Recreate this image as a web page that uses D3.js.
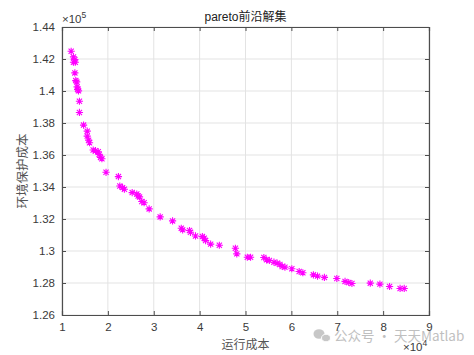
<!DOCTYPE html>
<html><head><meta charset="utf-8">
<script src="https://cdn.jsdelivr.net/npm/d3@7"></script>
<style>body{margin:0;background:#fff;}svg{display:block;}</style>
</head><body>
<svg id="c" width="474" height="355"></svg>
<script>
const titleText = "pareto前沿解集";
const xLabel = "运行成本";
const yLabel = "环境保护成本";
const xTicks = [1,2,3,4,5,6,7,8,9];
const yTicks = [1.26,1.28,1.30,1.32,1.34,1.36,1.38,1.40,1.42,1.44];
const yTickLabels = ["1.26","1.28","1.3","1.32","1.34","1.36","1.38","1.4","1.42","1.44"];
// operating cost (x10^4)
const costX = [1.20,1.25,1.28,1.29,1.25,1.28,1.30,1.32,1.33,1.34,1.36,1.38,1.38,1.47,1.55,1.55,1.58,1.60,1.68,1.73,1.79,1.81,1.84,1.87,1.96,2.23,2.26,2.32,2.36,2.53,2.63,2.66,2.69,2.74,2.79,2.90,3.14,3.41,3.60,3.63,3.78,3.80,3.91,4.06,4.10,4.13,4.24,4.43,4.78,4.81,5.04,5.11,5.40,5.46,5.52,5.62,5.69,5.75,5.80,5.86,6.01,6.17,6.25,6.48,6.57,6.72,6.99,7.17,7.25,7.32,7.72,7.93,8.14,8.37,8.46];
// environmental cost (x10^5)
const costY = [1.4248,1.4213,1.4196,1.4180,1.4180,1.4113,1.4065,1.4057,1.4026,1.4009,1.4001,1.3936,1.3866,1.3787,1.3749,1.3718,1.3693,1.3677,1.3631,1.3627,1.3620,1.3604,1.3585,1.3577,1.3492,1.3465,1.3406,1.3396,1.3386,1.3365,1.3356,1.3344,1.3338,1.3309,1.3302,1.3263,1.3213,1.3188,1.3142,1.3132,1.3128,1.3117,1.3094,1.3090,1.3080,1.3065,1.3043,1.3036,1.3017,1.2982,1.2961,1.2961,1.2959,1.2945,1.2941,1.2930,1.2924,1.2916,1.2903,1.2899,1.2889,1.2872,1.2864,1.2851,1.2843,1.2835,1.2828,1.2810,1.2803,1.2797,1.2799,1.2793,1.2778,1.2766,1.2766];

const L=62,R=429,T=27,B=315;
const svg=d3.select("#c");
const x=d3.scaleLinear().domain([1,9]).range([L,R]);
const y=d3.scaleLinear().domain([1.26,1.44]).range([B,T]);
const axisCol="#4d4d4d", textCol="#3a3a3a", font="'Liberation Sans', Arial, sans-serif", cjk="'Noto Sans CJK SC', sans-serif";

// grid
const g=svg.append("g");
g.selectAll("line.gx").data(xTicks).join("line").attr("x1",d=>x(d)).attr("x2",d=>x(d)).attr("y1",T).attr("y2",B).attr("stroke","#e3e3e3").attr("stroke-width",1);
g.selectAll("line.gy").data(yTicks).join("line").attr("y1",d=>y(d)).attr("y2",d=>y(d)).attr("x1",L).attr("x2",R).attr("stroke","#e3e3e3").attr("stroke-width",1);

// axes
const ax=svg.append("g").attr("transform",`translate(0,${B})`).call(d3.axisBottom(x).tickValues(xTicks).tickSize(-4).tickPadding(8).tickFormat(d3.format("d")));
const ay=svg.append("g").attr("transform",`translate(${L},0)`).call(d3.axisLeft(y).tickValues(yTicks).tickSize(-4).tickPadding(7).tickFormat((d,i)=>yTickLabels[i]));
const axT=svg.append("g").attr("transform",`translate(0,${T})`).call(d3.axisTop(x).tickValues(xTicks).tickSize(-4).tickFormat(""));
const ayR=svg.append("g").attr("transform",`translate(${R},0)`).call(d3.axisRight(y).tickValues(yTicks).tickSize(-4).tickFormat(""));
[ax,ay,axT,ayR].forEach(a=>{
  a.select(".domain").attr("stroke",axisCol).attr("stroke-width",1.2);
  a.selectAll(".tick line").attr("stroke",axisCol);
  a.selectAll(".tick text").attr("fill",textCol).style("font-family",font).style("font-size","11.5px");
});

// markers '*'
const r=3.6, d2=r*0.72;
const star=`M${-r},0L${r},0M0,${-r}L0,${r}M${-d2},${-d2}L${d2},${d2}M${-d2},${d2}L${d2},${-d2}`;
svg.append("g").selectAll("path").data(costX.map((v,i)=>[v,costY[i]])).join("path")
  .attr("transform",d=>`translate(${x(d[0])},${y(d[1])})`)
  .attr("d",star).attr("stroke","#ff00ff").attr("stroke-width",1.1).attr("fill","none");

// exponents
const e5=svg.append("text").attr("x",L).attr("y",23).attr("fill",textCol).style("font-family",font).style("font-size","11.5px");
e5.append("tspan").text("×10");
e5.append("tspan").attr("dy",-5).style("font-size","8.5px").text("5");
const e4=svg.append("text").attr("x",R-26).attr("y",351).attr("fill",textCol).style("font-family",font).style("font-size","11.5px");
e4.append("tspan").text("×10");
e4.append("tspan").attr("dy",-5).style("font-size","8.5px").text("4");

// title
const tt=svg.append("text").attr("x",(L+R)/2).attr("y",21).attr("text-anchor","middle").attr("fill","#222").style("font-size","12px");
tt.append("tspan").style("font-family",font).style("font-weight","500").text("pareto");
tt.append("tspan").style("font-family",cjk).text("前沿解集");

// axis labels
svg.append("text").attr("x",(L+R)/2).attr("y",349).attr("text-anchor","middle").attr("fill","#555").style("font-family",cjk).style("font-size","12px").text(xLabel);
svg.append("text").attr("transform",`translate(27,${(T+B)/2}) rotate(-90)`).attr("text-anchor","middle").attr("fill","#555").style("font-family",cjk).style("font-size","12.5px").text(yLabel);

// watermark
const wm=svg.append("g").attr("opacity",0.55);
wm.append("ellipse").attr("cx",319).attr("cy",334).attr("rx",5.5).attr("ry",4.8).attr("fill","#9a9a9a");
wm.append("ellipse").attr("cx",326).attr("cy",338).attr("rx",4.5).attr("ry",3.8).attr("fill","#9a9a9a").attr("stroke","#fff").attr("stroke-width",1);
wm.append("text").attr("x",334).attr("y",341).attr("fill","#8c8c8c").style("font-family",cjk).style("font-size","13.5px").text("公众号 · 天天Matlab");
</script>
</body></html>
